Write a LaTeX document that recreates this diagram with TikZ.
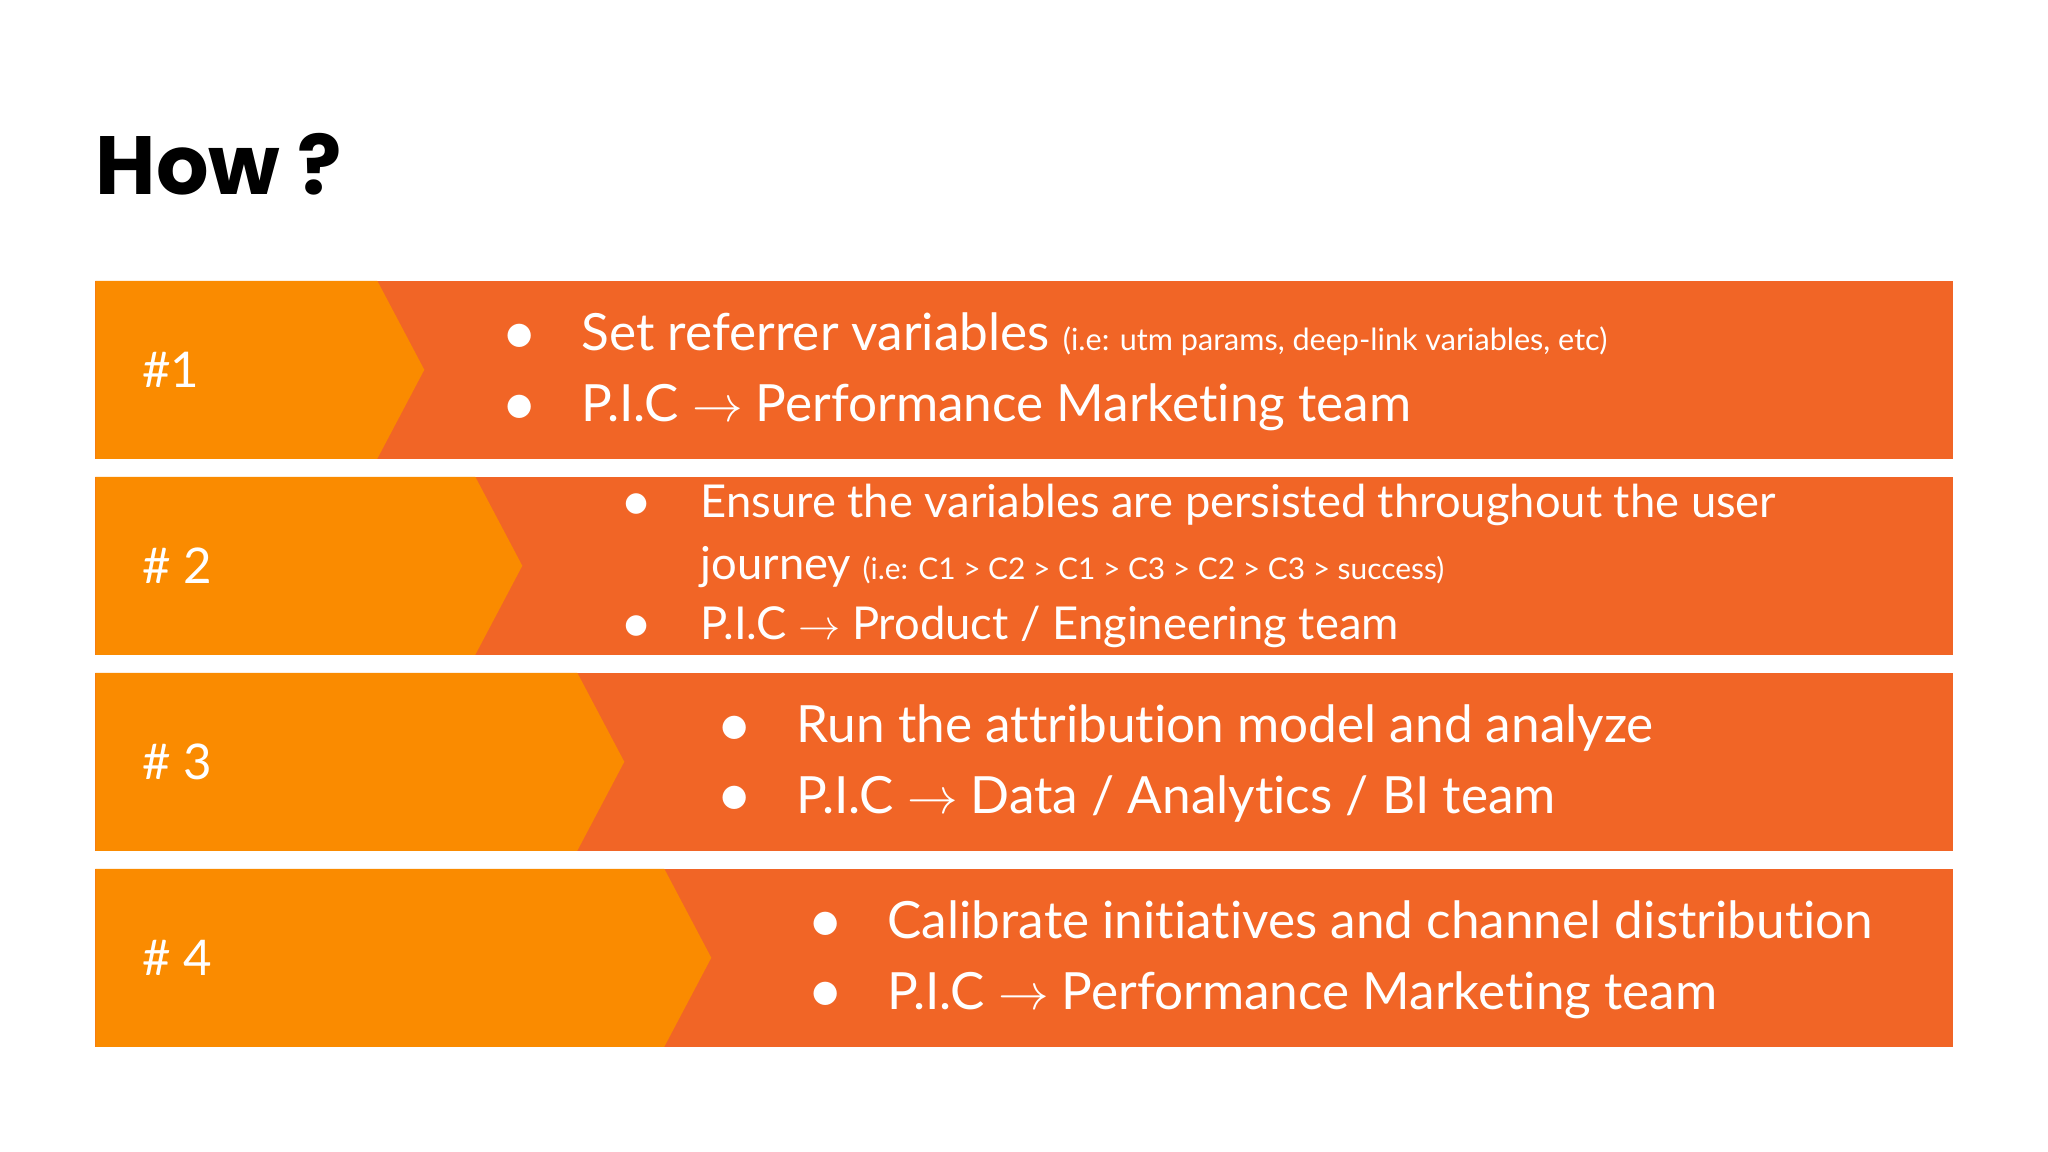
\documentclass[tikz,border=0pt]{standalone}
\usepackage{fontspec}
\setmainfont{Lato}[Ligatures=CommonOff]
\newfontfamily\titlefont{Poppins}
\usepackage{xcolor}
\usetikzlibrary{positioning}
\definecolor{slideorange}{RGB}{250,139,0}
\definecolor{slidered}{RGB}{241,101,38}
\tikzset{
    rowbar/.style={rectangle, fill=slidered, minimum width=18.58cm,
                   minimum height=1.78cm, inner sep=0pt, outer sep=0pt},
    chevron/.style={fill=slideorange},
    steplabel/.style={text=white, font=\fontsize{14}{16}\selectfont,
                      anchor=west, inner sep=0pt},
    bullettext/.style={text=white, font=\fontsize{14.6}{17}\selectfont,
                       anchor=base west, inner sep=0pt},
    smalltext/.style={bullettext, font=\fontsize{12.9}{15}\selectfont},
    heading/.style={font=\titlefont\bfseries\fontsize{23.5}{28}\selectfont,
                    anchor=base west, inner sep=0pt},
}
\newcommand{\pitem}[1]{\makebox[0.8cm][l]{\raisebox{-0.06em}{\scalebox{1.22}{\textbullet}}}#1}
\newcommand{\smallnote}[1]{{\fontsize{8.7}{10}\selectfont #1}}

\begin{document}
\begin{tikzpicture}
    \useasboundingbox (0,0) rectangle (20.48,11.52);
    \node[heading] (title) at (0.95,9.57) {How ?};
    \node[rowbar, anchor=north west] (row1) at (0.953,8.712) {};
    \node[rowbar, below=0.18cm of row1] (row2) {};
    \node[rowbar, below=0.18cm of row2] (row3) {};
    \node[rowbar, below=0.18cm of row3] (row4) {};
    % orange arrow part of each row
    \foreach \r/\d in {1/2.82, 2/3.80, 3/4.82, 4/5.69}
        \fill[chevron] (row\r.north west) -- ([xshift=\d cm]row\r.north west)
            -- ([xshift={\d cm+0.47cm}]row\r.west)
            -- ([xshift=\d cm]row\r.south west) -- (row\r.south west) -- cycle;
    \node[steplabel] (num1) at ([xshift=0.46cm]row1.west) {\#1};
    \node[steplabel] (num2) at ([xshift=0.46cm]row2.west) {\# 2};
    \node[steplabel] (num3) at ([xshift=0.46cm]row3.west) {\# 3};
    \node[steplabel] (num4) at ([xshift=0.46cm]row4.west) {\# 4};
    % bullet lines
    \node[bullettext] (item1a) at (5.01,8.01) {\pitem{Set referrer variables \smallnote{(i.e: utm params, deep-link variables, etc)}}};
    \node[bullettext] (item1b) at (5.01,7.30) {\pitem{P.I.C $\rightarrow$ Performance Marketing team}};
    \node[smalltext] (item2a) at (6.20,6.34) {\pitem{Ensure the variables are persisted throughout the user}};
    \node[smalltext] (item2b) at (6.20,5.725) {\hspace{0.8cm}journey {\fontsize{8.5}{10}\selectfont (i.e: C1 > C2 > C1 > C3 > C2 > C3 > success)}};
    \node[smalltext] (item2c) at (6.20,5.125) {\pitem{P.I.C $\rightarrow$ Product / Engineering team}};
    \node[bullettext] (item3a) at (7.16,4.09) {\pitem{Run the attribution model and analyze}};
    \node[bullettext] (item3b) at (7.16,3.385) {\pitem{P.I.C $\rightarrow$ Data / Analytics / BI team}};
    \node[bullettext] (item4a) at (8.07,2.13) {\pitem{Calibrate initiatives and channel distribution}};
    \node[bullettext] (item4b) at (8.07,1.425) {\pitem{P.I.C $\rightarrow$ Performance Marketing team}};
\end{tikzpicture}
\end{document}
